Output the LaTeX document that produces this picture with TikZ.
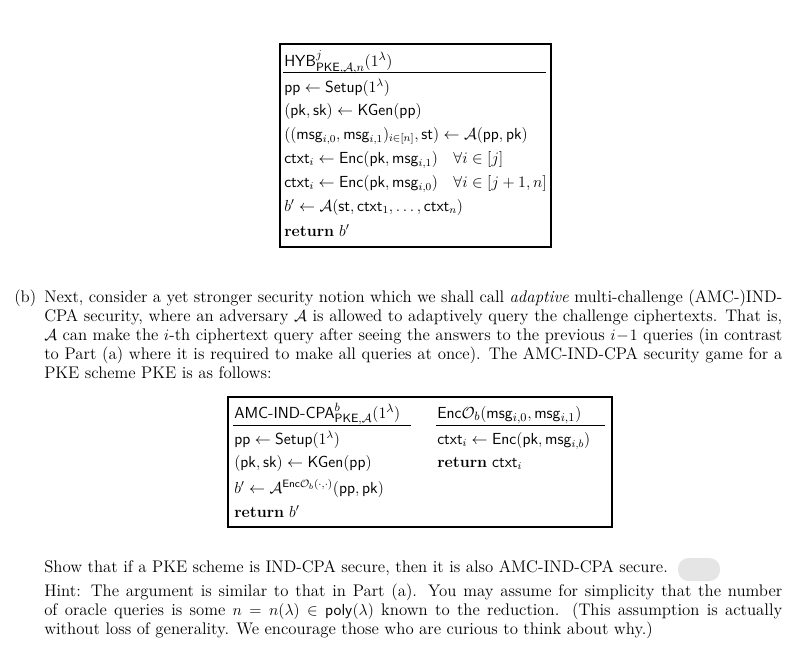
\documentclass[tikz,border=0pt]{standalone}
\usepackage{amsmath,amssymb}
\begin{document}
\begin{tikzpicture}[x=0.75pt,y=-0.75pt,
  ln/.style={anchor=base west,inner sep=0pt,font=\fontsize{11.5}{14}\selectfont},
  tx/.style={anchor=base west,inner sep=0pt,font=\fontsize{12.6}{15}\selectfont},
  bx/.style={draw,line width=0.8pt}]
\useasboundingbox (0,0) rectangle (806,662);
\fill[white] (0,0) rectangle (806,662);
% top box
\draw[bx] (280,44) rectangle (551,247);
\draw[line width=0.6pt] (283,72) -- (546,72);
\node[ln,font=\fontsize{12.5}{14}\selectfont] (h1) at (284,66) {$\mathsf{HYB}^{j}_{\mathsf{PKE},\mathcal{A},n}(1^{\lambda})$};
\node[ln] (t1) at (284,92) {$\mathsf{pp}\leftarrow\mathsf{Setup}(1^{\lambda})$};
\node[ln] (t2) at (284,115) {$(\mathsf{pk},\mathsf{sk})\leftarrow\mathsf{KGen}(\mathsf{pp})$};
\node[ln] (t3) at (284,139) {$((\mathsf{msg}_{i,0},\mathsf{msg}_{i,1})_{i\in[n]},\mathsf{st})\leftarrow\mathcal{A}(\mathsf{pp},\mathsf{pk})$};
\node[ln] (t4) at (284,163) {$\mathsf{ctxt}_i\leftarrow\mathsf{Enc}(\mathsf{pk},\mathsf{msg}_{i,1})\quad\forall i\in[j]$};
\node[ln] (t5) at (284,187) {$\mathsf{ctxt}_i\leftarrow\mathsf{Enc}(\mathsf{pk},\mathsf{msg}_{i,0})\quad\forall i\in[j+1,n]$};
\node[ln] (t6) at (284,211) {$b'\leftarrow\mathcal{A}(\mathsf{st},\mathsf{ctxt}_1,\ldots,\mathsf{ctxt}_n)$};
\node[ln] (t7) at (284,236) {$\mathbf{return}\ b'$};
% paragraph (b)
\node[tx] (pb) at (14,302) {(b)};
\node[tx] (p1) at (44,302) {\hbox to 553.5pt{Next, consider a yet stronger security notion which we shall call \emph{adaptive} multi-challenge (AMC-)IND-}};
\node[tx] (p2) at (44,321) {\hbox to 553.5pt{CPA security, where an adversary $\mathcal{A}$ is allowed to adaptively query the challenge ciphertexts. That is,}};
\node[tx] (p3) at (44,340) {\hbox to 553.5pt{$\mathcal{A}$ can make the $i$-th ciphertext query after seeing the answers to the previous $i\!-\!1$ queries (in contrast}};
\node[tx] (p4) at (44,359) {\hbox to 553.5pt{to Part (a) where it is required to make all queries at once). The AMC-IND-CPA security game for a}};
\node[tx] (p5) at (44,378) {PKE scheme PKE is as follows:};
% second box
\draw[bx] (228,397) rectangle (612,527);
\draw[line width=0.6pt] (233,425) -- (411,425);
\draw[line width=0.6pt] (436,425) -- (605,425);
\node[ln,font=\fontsize{12.5}{14}\selectfont] (a0) at (234,418) {$\mathsf{AMC\text{-}IND\text{-}CPA}^{b}_{\mathsf{PKE},\mathcal{A}}(1^{\lambda})$};
\node[ln] (a1) at (234,444) {$\mathsf{pp}\leftarrow\mathsf{Setup}(1^{\lambda})$};
\node[ln] (a2) at (234,467) {$(\mathsf{pk},\mathsf{sk})\leftarrow\mathsf{KGen}(\mathsf{pp})$};
\node[ln] (a3) at (234,493) {$b'\leftarrow\mathcal{A}^{\mathsf{Enc}\mathcal{O}_b(\cdot,\cdot)}(\mathsf{pp},\mathsf{pk})$};
\node[ln] (a4) at (234,517) {$\mathbf{return}\ b'$};
\node[ln,font=\fontsize{12.5}{14}\selectfont] (e0) at (437,418) {$\mathsf{Enc}\mathcal{O}_b(\mathsf{msg}_{i,0},\mathsf{msg}_{i,1})$};
\node[ln] (e1) at (437,444) {$\mathsf{ctxt}_i\leftarrow\mathsf{Enc}(\mathsf{pk},\mathsf{msg}_{i,b})$};
\node[ln] (e2) at (437,467) {$\mathbf{return}\ \mathsf{ctxt}_i$};
% final text
\node[tx] (s1) at (44,572) {Show that if a PKE scheme is IND-CPA secure, then it is also AMC-IND-CPA secure.};
\fill[gray!20,rounded corners=8pt] (678,558) rectangle (720,581);
\node[tx] (h1a) at (44,596) {\hbox to 553.5pt{Hint: The argument is similar to that in Part (a). You may assume for simplicity that the number}};
\node[tx] (h2a) at (44,615) {\hbox to 553.5pt{of oracle queries is some $n=n(\lambda)\in\mathsf{poly}(\lambda)$ known to the reduction. (This assumption is actually}};
\node[tx] (h3a) at (44,634) {without loss of generality. We encourage those who are curious to think about why.)};
\end{tikzpicture}
\end{document}
